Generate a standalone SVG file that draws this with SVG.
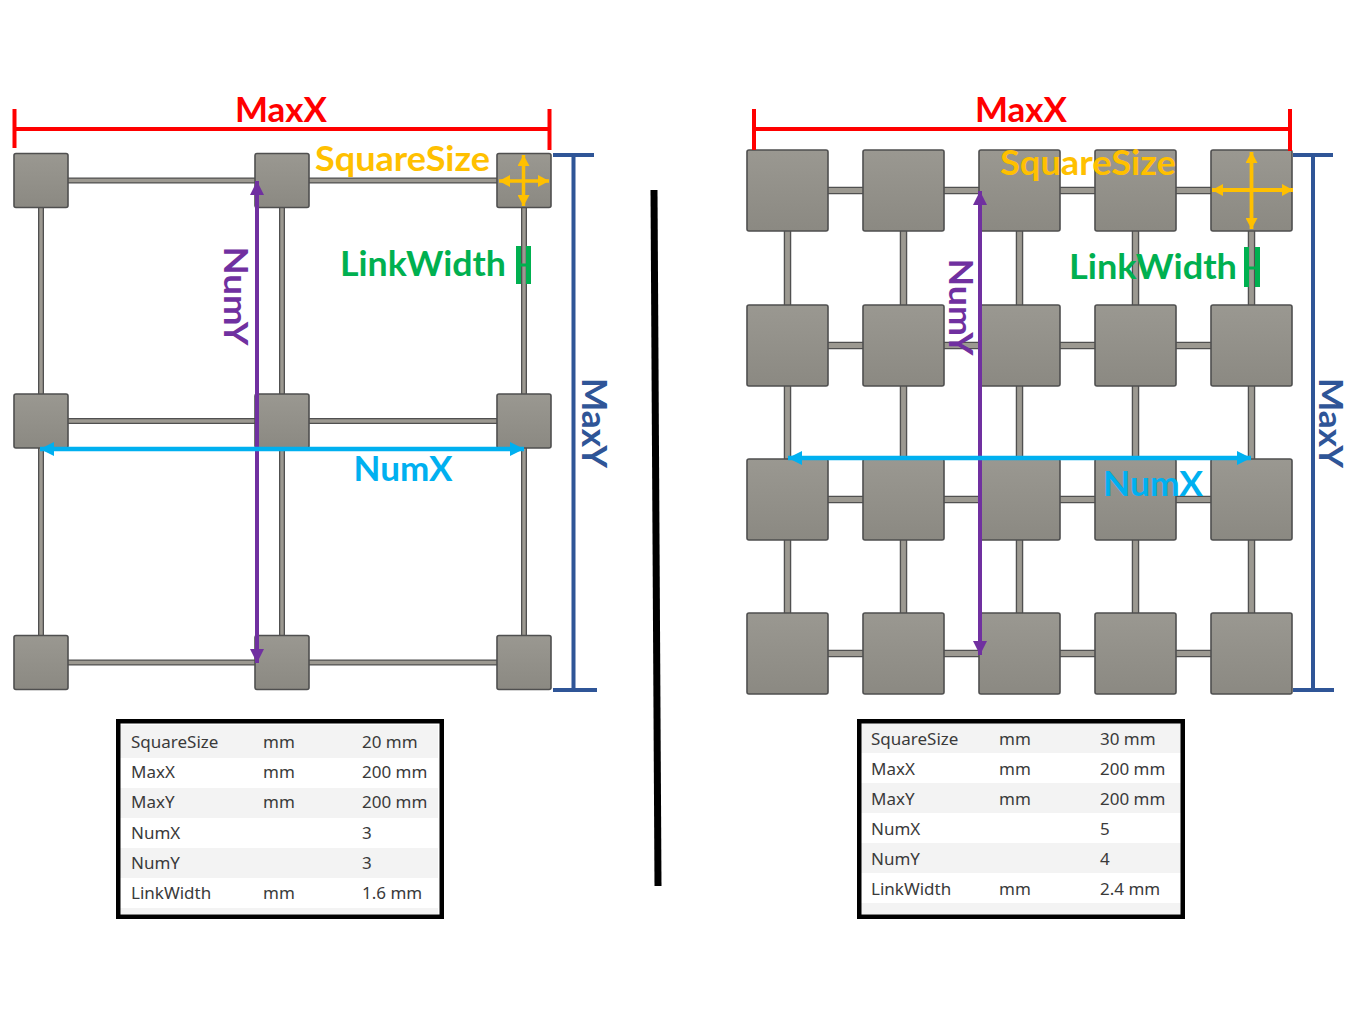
<svg xmlns="http://www.w3.org/2000/svg" width="1351" height="1029" viewBox="0 0 1351 1029">
<defs>
<style>
.sq{fill:url(#sqg);stroke:#4f4f4f;stroke-width:1.6}
.lo{stroke:#505050;fill:none}
.li{stroke:#9c9991;fill:none}
.lbl{font-family:Lato,"Open Sans",sans-serif;font-weight:bold}
.red{fill:#FF0000}.gold{fill:#FFC000}.green{fill:#00B050}.purple{fill:#7030A0}.cyan{fill:#00B0F0}.blue{fill:#2F5597}
.tb{font-family:"Noto Sans","Open Sans",sans-serif;font-size:17px;fill:#3a3a3a}
.band{fill:#f3f3f3}
.frame{fill:none;stroke:#000;stroke-width:4.5}
</style>
<linearGradient id="sqg" x1="0" y1="0" x2="0" y2="1">
<stop offset="0" stop-color="#9a9891"/><stop offset="1" stop-color="#8b8982"/>
</linearGradient>
<marker id="ap" markerUnits="userSpaceOnUse" markerWidth="16" markerHeight="16" refX="14" refY="7" orient="auto-start-reverse" viewBox="0 0 16 14"><path d="M0,0 L14,7 L0,14 Z" fill="#7030A0"/></marker>
<marker id="ac" markerUnits="userSpaceOnUse" markerWidth="16" markerHeight="16" refX="14" refY="7" orient="auto-start-reverse" viewBox="0 0 16 14"><path d="M0,0 L14,7 L0,14 Z" fill="#00B0F0"/></marker>
<marker id="ag" markerUnits="userSpaceOnUse" markerWidth="12" markerHeight="12" refX="11" refY="6" orient="auto-start-reverse" viewBox="0 0 12 12"><path d="M0,0 L11,6 L0,12 Z" fill="#FFC000"/></marker>
</defs>
<rect width="1351" height="1029" fill="#fff"/>

<g id="left-lattice">
<g id="left-links">
<g class="lo" stroke-width="6">
<line x1="41" y1="180.5" x2="524" y2="180.5"/><line x1="41" y1="421" x2="524" y2="421"/><line x1="41" y1="662.5" x2="524" y2="662.5"/>
<line x1="41" y1="180" x2="41" y2="663"/><line x1="282" y1="180" x2="282" y2="663"/><line x1="524" y1="180" x2="524" y2="663"/>
</g>
<g class="li" stroke-width="3.4">
<line x1="41" y1="180.5" x2="524" y2="180.5"/><line x1="41" y1="421" x2="524" y2="421"/><line x1="41" y1="662.5" x2="524" y2="662.5"/>
<line x1="41" y1="180" x2="41" y2="663"/><line x1="282" y1="180" x2="282" y2="663"/><line x1="524" y1="180" x2="524" y2="663"/>
</g>
</g>
<g id="left-squares">
<rect class="sq" x="14" y="153.5" width="54" height="54" rx="2"/><rect class="sq" x="255" y="153.5" width="54" height="54" rx="2"/><rect class="sq" x="497" y="153.5" width="54" height="54" rx="2"/>
<rect class="sq" x="14" y="394" width="54" height="54" rx="2"/><rect class="sq" x="255" y="394" width="54" height="54" rx="2"/><rect class="sq" x="497" y="394" width="54" height="54" rx="2"/>
<rect class="sq" x="14" y="635.5" width="54" height="54" rx="2"/><rect class="sq" x="255" y="635.5" width="54" height="54" rx="2"/><rect class="sq" x="497" y="635.5" width="54" height="54" rx="2"/>
</g>
</g>

<g id="right-lattice">
<g id="right-links">
<g class="lo" stroke-width="7.5">
<line x1="787.5" y1="190.5" x2="1251.5" y2="190.5"/><line x1="787.5" y1="345.5" x2="1251.5" y2="345.5"/><line x1="787.5" y1="499.5" x2="1251.5" y2="499.5"/><line x1="787.5" y1="653.5" x2="1251.5" y2="653.5"/>
<line x1="787.5" y1="190" x2="787.5" y2="654"/><line x1="903.5" y1="190" x2="903.5" y2="654"/><line x1="1019.5" y1="190" x2="1019.5" y2="654"/><line x1="1135.5" y1="190" x2="1135.5" y2="654"/><line x1="1251.5" y1="190" x2="1251.5" y2="654"/>
</g>
<g class="li" stroke-width="4.8">
<line x1="787.5" y1="190.5" x2="1251.5" y2="190.5"/><line x1="787.5" y1="345.5" x2="1251.5" y2="345.5"/><line x1="787.5" y1="499.5" x2="1251.5" y2="499.5"/><line x1="787.5" y1="653.5" x2="1251.5" y2="653.5"/>
<line x1="787.5" y1="190" x2="787.5" y2="654"/><line x1="903.5" y1="190" x2="903.5" y2="654"/><line x1="1019.5" y1="190" x2="1019.5" y2="654"/><line x1="1135.5" y1="190" x2="1135.5" y2="654"/><line x1="1251.5" y1="190" x2="1251.5" y2="654"/>
</g>
</g>
<g id="right-squares">
<rect class="sq" x="747" y="150" width="81" height="81" rx="2"/><rect class="sq" x="863" y="150" width="81" height="81" rx="2"/><rect class="sq" x="979" y="150" width="81" height="81" rx="2"/><rect class="sq" x="1095" y="150" width="81" height="81" rx="2"/><rect class="sq" x="1211" y="150" width="81" height="81" rx="2"/>
<rect class="sq" x="747" y="305" width="81" height="81" rx="2"/><rect class="sq" x="863" y="305" width="81" height="81" rx="2"/><rect class="sq" x="979" y="305" width="81" height="81" rx="2"/><rect class="sq" x="1095" y="305" width="81" height="81" rx="2"/><rect class="sq" x="1211" y="305" width="81" height="81" rx="2"/>
<rect class="sq" x="747" y="459" width="81" height="81" rx="2"/><rect class="sq" x="863" y="459" width="81" height="81" rx="2"/><rect class="sq" x="979" y="459" width="81" height="81" rx="2"/><rect class="sq" x="1095" y="459" width="81" height="81" rx="2"/><rect class="sq" x="1211" y="459" width="81" height="81" rx="2"/>
<rect class="sq" x="747" y="613" width="81" height="81" rx="2"/><rect class="sq" x="863" y="613" width="81" height="81" rx="2"/><rect class="sq" x="979" y="613" width="81" height="81" rx="2"/><rect class="sq" x="1095" y="613" width="81" height="81" rx="2"/><rect class="sq" x="1211" y="613" width="81" height="81" rx="2"/>
</g>
</g>

<g id="connectors">
<g id="left-dims">
<g stroke="#FF0000" stroke-width="4" fill="none"><line x1="14.5" y1="129" x2="549.5" y2="129"/><line x1="14.5" y1="109" x2="14.5" y2="148"/><line x1="549.5" y1="109" x2="549.5" y2="150"/></g>
<g stroke="#2F5597" stroke-width="4" fill="none"><line x1="573.5" y1="155" x2="573.5" y2="690"/><line x1="553" y1="155" x2="594" y2="155"/><line x1="553" y1="690" x2="597" y2="690"/></g>
<line x1="257" y1="181" x2="257" y2="663" stroke="#7030A0" stroke-width="4" marker-start="url(#ap)" marker-end="url(#ap)"/>
<line x1="40" y1="449" x2="524" y2="449" stroke="#00B0F0" stroke-width="4.5" marker-start="url(#ac)" marker-end="url(#ac)"/>
<g stroke="#FFC000" stroke-width="3.5"><line x1="499" y1="181" x2="549" y2="181" marker-start="url(#ag)" marker-end="url(#ag)"/><line x1="523.5" y1="155" x2="523.5" y2="206" marker-start="url(#ag)" marker-end="url(#ag)"/></g>
<g class="green"><rect x="516" y="246" width="5" height="38"/><rect x="526" y="246" width="5" height="38"/><rect x="516" y="263.5" width="15" height="3"/></g>
</g>
<g id="right-dims">
<g stroke="#FF0000" stroke-width="4" fill="none"><line x1="754" y1="129" x2="1290" y2="129"/><line x1="754" y1="109" x2="754" y2="150"/><line x1="1290" y1="109" x2="1290" y2="151"/></g>
<g stroke="#2F5597" stroke-width="4" fill="none"><line x1="1313" y1="155" x2="1313" y2="690"/><line x1="1293" y1="155" x2="1333" y2="155"/><line x1="1293" y1="690" x2="1334" y2="690"/></g>
<line x1="980" y1="191" x2="980" y2="655" stroke="#7030A0" stroke-width="4" marker-start="url(#ap)" marker-end="url(#ap)"/>
<line x1="788" y1="458" x2="1251" y2="458" stroke="#00B0F0" stroke-width="4.5" marker-start="url(#ac)" marker-end="url(#ac)"/>
<g stroke="#FFC000" stroke-width="3.8"><line x1="1212" y1="190" x2="1293" y2="190" marker-start="url(#ag)" marker-end="url(#ag)"/><line x1="1251.5" y1="152" x2="1251.5" y2="229" marker-start="url(#ag)" marker-end="url(#ag)"/></g>
<g class="green"><rect x="1244" y="247" width="5" height="40"/><rect x="1255" y="247" width="5" height="40"/><rect x="1244" y="266.5" width="16" height="3"/></g>
</g>
<line id="divider" x1="654" y1="190" x2="658" y2="886" stroke="#000" stroke-width="7"/>
</g>

<g id="left-labels" class="lbl">
<text class="red" x="281" y="122" font-size="34" text-anchor="middle" textLength="92" lengthAdjust="spacingAndGlyphs">MaxX</text>
<text class="gold" x="315" y="171" font-size="34" textLength="175" lengthAdjust="spacingAndGlyphs">SquareSize</text>
<text class="green" x="340" y="276" font-size="35" textLength="166" lengthAdjust="spacingAndGlyphs">LinkWidth</text>
<text class="cyan" x="403" y="481" font-size="34" text-anchor="middle" textLength="99" lengthAdjust="spacingAndGlyphs">NumX</text>
<text class="purple" transform="translate(224,296) rotate(90)" font-size="33" text-anchor="middle" textLength="99" lengthAdjust="spacingAndGlyphs">NumY</text>
<text class="blue" transform="translate(582,423) rotate(90)" font-size="34" text-anchor="middle" textLength="90" lengthAdjust="spacingAndGlyphs">MaxY</text>
</g>
<g id="right-labels" class="lbl">
<text class="red" x="1021" y="122" font-size="34" text-anchor="middle" textLength="92" lengthAdjust="spacingAndGlyphs">MaxX</text>
<text class="gold" x="1000" y="175" font-size="34" textLength="176" lengthAdjust="spacingAndGlyphs">SquareSize</text>
<text class="green" x="1069" y="279" font-size="35" textLength="168" lengthAdjust="spacingAndGlyphs">LinkWidth</text>
<text class="cyan" x="1153" y="496" font-size="34" text-anchor="middle" textLength="100" lengthAdjust="spacingAndGlyphs">NumX</text>
<text class="purple" transform="translate(949,307) rotate(90)" font-size="33" text-anchor="middle" textLength="97" lengthAdjust="spacingAndGlyphs">NumY</text>
<text class="blue" transform="translate(1319,423) rotate(90)" font-size="32" text-anchor="middle" textLength="90" lengthAdjust="spacingAndGlyphs">MaxY</text>
</g>

<g id="left-table">
<rect class="band" x="120" y="725" width="318" height="33"/>
<rect class="band" x="120" y="788" width="318" height="30"/>
<rect class="band" x="120" y="848" width="318" height="30"/>
<rect class="band" x="120" y="908" width="318" height="6"/>
<rect class="frame" x="118.25" y="721.25" width="323.5" height="195.5"/>
<g class="tb">
<text x="131" y="748">SquareSize</text><text x="263" y="748">mm</text><text x="362" y="748">20 mm</text>
<text x="131" y="778">MaxX</text><text x="263" y="778">mm</text><text x="362" y="778">200 mm</text>
<text x="131" y="808">MaxY</text><text x="263" y="808">mm</text><text x="362" y="808">200 mm</text>
<text x="131" y="839">NumX</text><text x="362" y="839">3</text>
<text x="131" y="869">NumY</text><text x="362" y="869">3</text>
<text x="131" y="899">LinkWidth</text><text x="263" y="899">mm</text><text x="362" y="899">1.6 mm</text>
</g>
</g>

<g id="right-table">
<rect class="band" x="861" y="723" width="320" height="30"/>
<rect class="band" x="861" y="783" width="320" height="30"/>
<rect class="band" x="861" y="843" width="320" height="30"/>
<rect class="band" x="861" y="903" width="320" height="11"/>
<rect class="frame" x="859.25" y="721.25" width="323.5" height="195.5"/>
<g class="tb">
<text x="871" y="745">SquareSize</text><text x="999" y="745">mm</text><text x="1100" y="745">30 mm</text>
<text x="871" y="775">MaxX</text><text x="999" y="775">mm</text><text x="1100" y="775">200 mm</text>
<text x="871" y="805">MaxY</text><text x="999" y="805">mm</text><text x="1100" y="805">200 mm</text>
<text x="871" y="835">NumX</text><text x="1100" y="835">5</text>
<text x="871" y="865">NumY</text><text x="1100" y="865">4</text>
<text x="871" y="895">LinkWidth</text><text x="999" y="895">mm</text><text x="1100" y="895">2.4 mm</text>
</g>
</g>
</svg>
